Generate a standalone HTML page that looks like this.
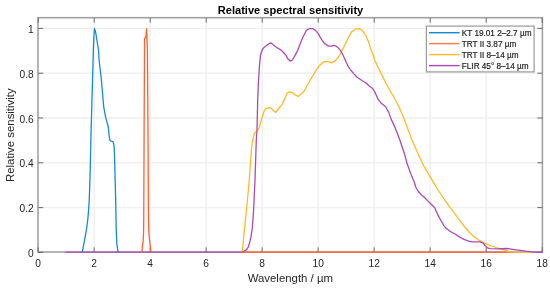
<!DOCTYPE html><html><head><meta charset="utf-8"><style>html,body{margin:0;padding:0;background:#fff;width:550px;height:289px;overflow:hidden}svg{display:block}text{font-family:"Liberation Sans",Arial,Helvetica,sans-serif}</style></head><body>
<svg width="550" height="289" viewBox="0 0 550 289">
<rect width="550" height="289" fill="#fff"/>
<path d="M94.20 17.70V252.40M150.20 17.70V252.40M206.20 17.70V252.40M262.20 17.70V252.40M318.20 17.70V252.40M374.20 17.70V252.40M430.20 17.70V252.40M486.20 17.70V252.40M38.20 207.60H542.40M38.20 162.80H542.40M38.20 118.00H542.40M38.20 73.20H542.40M38.20 28.40H542.40" stroke="#eeeeee" stroke-width="1.3" fill="none"/>
<rect x="38.0" y="17.7" width="504.4" height="234.3" fill="none" stroke="#a2a2a2" stroke-width="1.6"/>
<path d="M38.20 252.40v-5M38.20 17.70v5M94.20 252.40v-5M94.20 17.70v5M150.20 252.40v-5M150.20 17.70v5M206.20 252.40v-5M206.20 17.70v5M262.20 252.40v-5M262.20 17.70v5M318.20 252.40v-5M318.20 17.70v5M374.20 252.40v-5M374.20 17.70v5M430.20 252.40v-5M430.20 17.70v5M486.20 252.40v-5M486.20 17.70v5M542.20 252.40v-5M542.20 17.70v5M38.20 252.40h5M542.40 252.40h-5M38.20 207.60h5M542.40 207.60h-5M38.20 162.80h5M542.40 162.80h-5M38.20 118.00h5M542.40 118.00h-5M38.20 73.20h5M542.40 73.20h-5M38.20 28.40h5M542.40 28.40h-5" stroke="#6a6a6a" stroke-width="1.0" fill="none"/>
<polyline points="82.20,252.20 83.20,247.50 84.40,241.00 85.60,234.30 86.70,228.00 87.60,221.00 88.30,214.00 88.80,207.00 89.20,200.00 89.60,190.00 90.20,170.00 91.10,130.00 91.75,108.00 92.50,80.00 93.10,60.00 93.50,45.00 94.00,35.00 94.40,28.70 95.30,30.50 96.10,35.00 98.50,50.00 99.10,60.00 101.40,80.00 103.10,100.00 103.70,106.60 104.60,111.60 105.80,117.90 107.50,124.00 108.40,128.00 108.80,132.20 109.20,136.30 110.00,140.50 111.30,141.10 113.00,141.70 113.80,144.60 114.20,147.90 114.40,152.00 115.70,200.00 116.20,228.60 116.80,243.80 118.10,252.20" fill="none" stroke="#148CCD" stroke-width="1.3" stroke-linejoin="round" stroke-linecap="round"/>
<polyline points="142.00,252.20 142.40,246.50 143.20,240.70 143.60,232.00 143.75,215.00 143.90,180.00 144.10,133.00 144.50,48.00 144.50,38.50 145.90,37.00 146.60,28.80 147.00,40.00 147.40,50.00 148.00,133.00 148.30,190.00 148.50,215.00 148.70,230.00 149.60,240.70 150.30,246.50 150.90,252.20" fill="none" stroke="#FF6030" stroke-width="1.3" stroke-linejoin="round" stroke-linecap="round"/>
<polyline points="242.20,252.20 512.00,252.20" fill="none" stroke="#FF6030" stroke-width="1.3" stroke-linejoin="round" stroke-linecap="round"/>
<polyline points="242.20,252.20 244.60,228.00 246.50,210.00 249.30,180.00 251.40,150.00 252.30,143.00 253.00,138.70 254.50,133.00 256.10,131.90 257.70,130.40 259.20,127.80 260.10,124.00 261.60,119.10 262.90,115.00 264.10,111.20 265.80,108.70 267.90,107.90 270.00,107.60 272.00,109.10 274.10,111.20 275.80,112.50 276.00,112.00 279.10,108.00 282.20,104.30 284.70,98.70 287.20,93.10 289.70,91.80 292.20,92.50 295.30,95.00 298.20,96.40 300.90,94.30 304.00,91.20 306.50,86.80 309.60,81.20 311.20,78.50 315.90,70.70 319.80,65.20 323.70,61.80 327.60,61.40 331.50,62.90 335.40,60.60 336.20,59.60 338.80,56.50 341.40,51.80 344.00,46.60 346.60,41.40 348.30,37.60 351.80,31.70 355.20,29.20 359.40,28.60 362.10,30.30 365.60,35.10 368.40,41.40 371.10,50.00 373.90,56.90 374.40,59.50 377.90,66.90 382.20,75.60 386.50,84.20 390.90,92.00 395.00,99.30 399.30,107.50 404.00,118.40 407.90,129.30 411.80,139.40 414.70,146.20 419.00,155.80 423.40,165.30 428.50,173.90 434.60,184.30 437.70,189.50 444.60,199.90 450.00,207.30 454.70,213.60 459.30,219.80 464.00,226.00 468.70,231.50 473.40,236.20 478.00,239.60 482.70,242.40 487.40,244.30 491.50,246.00 499.20,248.50 506.80,250.80 510.60,252.20 531.00,252.20" fill="none" stroke="#FFB928" stroke-width="1.3" stroke-linejoin="round" stroke-linecap="round"/>
<polyline points="66.00,252.20 242.20,252.20 246.30,249.90 248.40,246.80 249.90,241.60 251.00,236.40 252.00,230.20 252.50,226.00 253.60,210.00 255.00,180.00 256.30,140.00 257.00,130.00 257.70,100.00 258.00,92.00 258.40,82.20 259.10,72.50 259.30,68.00 259.80,61.90 260.50,55.70 261.60,51.50 262.90,48.40 265.50,46.30 268.60,44.00 270.30,43.00 271.80,43.40 273.40,44.90 276.80,47.50 281.10,50.10 284.00,53.00 285.90,55.40 287.90,58.80 290.30,61.20 292.70,59.80 295.10,55.40 297.60,50.60 300.00,44.30 302.10,39.00 304.20,34.70 306.20,30.80 307.90,29.10 310.00,28.60 312.50,28.60 314.50,29.50 316.60,31.60 318.30,33.60 320.30,37.40 322.40,40.70 324.00,42.80 325.30,44.00 328.40,46.10 331.00,46.10 334.10,45.40 336.00,46.10 338.60,48.20 340.70,50.80 342.70,54.40 344.80,59.10 346.40,62.70 348.50,66.80 351.10,70.50 353.70,73.60 357.10,77.30 357.10,77.30 362.30,80.80 365.80,82.70 369.20,86.00 372.70,88.50 375.30,92.90 377.90,98.90 381.30,103.30 385.70,106.70 387.40,110.00 388.80,112.40 391.20,119.40 394.80,126.90 397.50,133.80 400.20,141.00 402.50,148.00 404.80,155.00 407.00,163.30 410.50,173.00 413.90,181.30 416.00,187.50 418.10,191.00 421.50,195.00 422.10,195.60 424.00,197.00 427.10,200.10 430.20,203.20 432.70,205.70 434.60,207.60 436.50,211.90 438.90,216.90 441.40,221.30 443.90,225.60 445.80,228.00 450.00,231.20 454.70,233.80 459.30,236.90 464.00,239.30 468.70,241.10 471.80,241.90 479.60,241.90 482.70,242.70 485.00,245.50 487.40,247.80 490.00,248.60 497.30,248.90 506.80,248.50 516.30,249.80 525.90,251.20 534.40,252.20 542.40,252.20" fill="none" stroke="#AA4BB4" stroke-width="1.3" stroke-linejoin="round" stroke-linecap="round"/>
<text x="38.20" y="267.4" font-size="10.2" fill="#262626" text-anchor="middle">0</text>
<text x="94.20" y="267.4" font-size="10.2" fill="#262626" text-anchor="middle">2</text>
<text x="150.20" y="267.4" font-size="10.2" fill="#262626" text-anchor="middle">4</text>
<text x="206.20" y="267.4" font-size="10.2" fill="#262626" text-anchor="middle">6</text>
<text x="262.20" y="267.4" font-size="10.2" fill="#262626" text-anchor="middle">8</text>
<text x="318.20" y="267.4" font-size="10.2" fill="#262626" text-anchor="middle">10</text>
<text x="374.20" y="267.4" font-size="10.2" fill="#262626" text-anchor="middle">12</text>
<text x="430.20" y="267.4" font-size="10.2" fill="#262626" text-anchor="middle">14</text>
<text x="486.20" y="267.4" font-size="10.2" fill="#262626" text-anchor="middle">16</text>
<text x="542.20" y="267.4" font-size="10.2" fill="#262626" text-anchor="middle">18</text>
<text x="33.7" y="257.00" font-size="10.2" fill="#262626" text-anchor="end">0</text>
<text x="33.7" y="212.20" font-size="10.2" fill="#262626" text-anchor="end">0.2</text>
<text x="33.7" y="167.40" font-size="10.2" fill="#262626" text-anchor="end">0.4</text>
<text x="33.7" y="122.60" font-size="10.2" fill="#262626" text-anchor="end">0.6</text>
<text x="33.7" y="77.80" font-size="10.2" fill="#262626" text-anchor="end">0.8</text>
<text x="33.7" y="33.00" font-size="10.2" fill="#262626" text-anchor="end">1</text>
<text x="290.30" y="281.8" font-size="11.4" fill="#262626" text-anchor="middle">Wavelength / µm</text>
<text transform="translate(14.4,134.7) rotate(-90)" x="-0.5" y="0" font-size="11.4" fill="#262626" text-anchor="middle">Relative sensitivity</text>
<text x="290.50" y="13.9" font-size="11.1" font-weight="bold" fill="#000" text-anchor="middle">Relative spectral sensitivity</text>
<rect x="426.4" y="26.1" width="107.70000000000005" height="45.800000000000004" fill="#fff" stroke="#9a9a9a" stroke-width="1.2"/>
<line x1="429" y1="32.7" x2="459.6" y2="32.7" stroke="#148CCD" stroke-width="1.45"/>
<text x="461.8" y="35.60" font-size="8.2" fill="#262626" stroke="#262626" stroke-width="0.2">KT 19.01 2–2.7 µm</text>
<line x1="429" y1="43.6" x2="459.6" y2="43.6" stroke="#FF7A4E" stroke-width="1.45"/>
<text x="461.8" y="46.50" font-size="8.2" fill="#262626" stroke="#262626" stroke-width="0.2">TRT II 3.87 µm</text>
<line x1="429" y1="54.6" x2="459.6" y2="54.6" stroke="#FFB928" stroke-width="1.45"/>
<text x="461.8" y="57.50" font-size="8.2" fill="#262626" stroke="#262626" stroke-width="0.2">TRT II 8–14 µm</text>
<line x1="429" y1="65.6" x2="459.6" y2="65.6" stroke="#A74CB3" stroke-width="1.45"/>
<text x="461.8" y="68.50" font-size="8.2" fill="#262626" stroke="#262626" stroke-width="0.2">FLIR 45° 8–14 µm</text>
</svg></body></html>
